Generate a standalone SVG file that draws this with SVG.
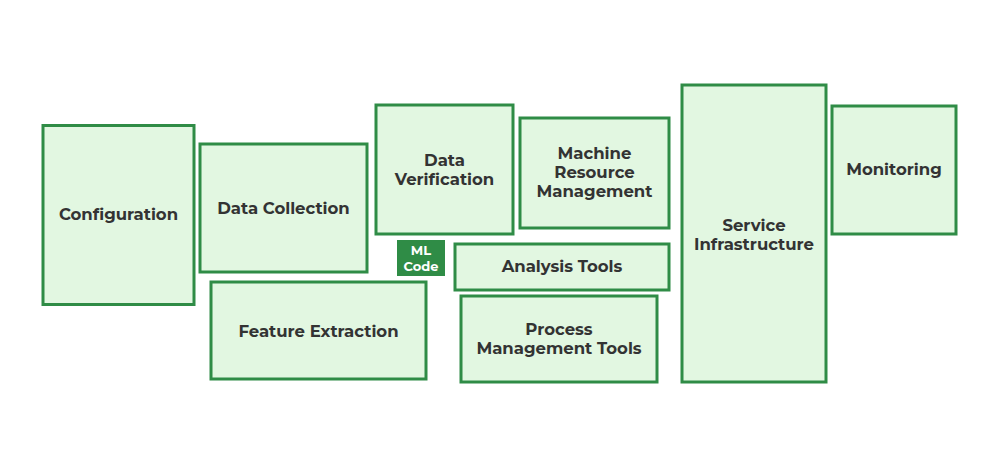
<svg xmlns="http://www.w3.org/2000/svg" width="1000" height="468" viewBox="0 0 1000 468">
<style>
.b{fill:#e2f7e1;stroke:#2f8c46;stroke-width:3}
.t{font-family:Montserrat,"Open Sans","Liberation Sans",sans-serif;font-weight:bold;font-size:16.5px;fill:#333;text-anchor:middle}
.w{font-family:Montserrat,"Open Sans","Liberation Sans",sans-serif;font-weight:bold;font-size:13px;fill:#fff;text-anchor:middle}
</style>
<rect width="1000" height="468" fill="#fff"/>
<g id="configuration"><rect class="b" x="43" y="125.5" width="151" height="179"/><text class="t" x="118.5" y="220">Configuration</text></g>
<g id="data-collection"><rect class="b" x="200" y="144" width="167" height="128"/><text class="t" x="283.5" y="214">Data Collection</text></g>
<g id="data-verification"><rect class="b" x="376" y="105" width="137" height="129"/><text class="t" x="444.5" y="166">Data</text><text class="t" x="444.5" y="185">Verification</text></g>
<g id="machine-resource"><rect class="b" x="520" y="118" width="149" height="110"/><text class="t" x="594.5" y="159">Machine</text><text class="t" x="594.5" y="178">Resource</text><text class="t" x="594.5" y="197">Management</text></g>
<g id="service-infrastructure"><rect class="b" x="682" y="85" width="144" height="297"/><text class="t" x="754" y="231">Service</text><text class="t" x="754" y="250">Infrastructure</text></g>
<g id="monitoring"><rect class="b" x="832" y="106" width="124" height="128"/><text class="t" x="894" y="175">Monitoring</text></g>
<g id="ml-code"><rect x="397" y="240" width="48" height="36" fill="#2f8c46"/><text class="w" x="421" y="255">ML</text><text class="w" x="421" y="271">Code</text></g>
<g id="analysis-tools"><rect class="b" x="455" y="244" width="214" height="46"/><text class="t" x="562" y="272">Analysis Tools</text></g>
<g id="feature-extraction"><rect class="b" x="211" y="282" width="215" height="97"/><text class="t" x="318.5" y="337">Feature Extraction</text></g>
<g id="process-management"><rect class="b" x="461" y="296" width="196" height="86"/><text class="t" x="559" y="335">Process</text><text class="t" x="559" y="354">Management Tools</text></g>
<g id="connectors"></g>
</svg>
